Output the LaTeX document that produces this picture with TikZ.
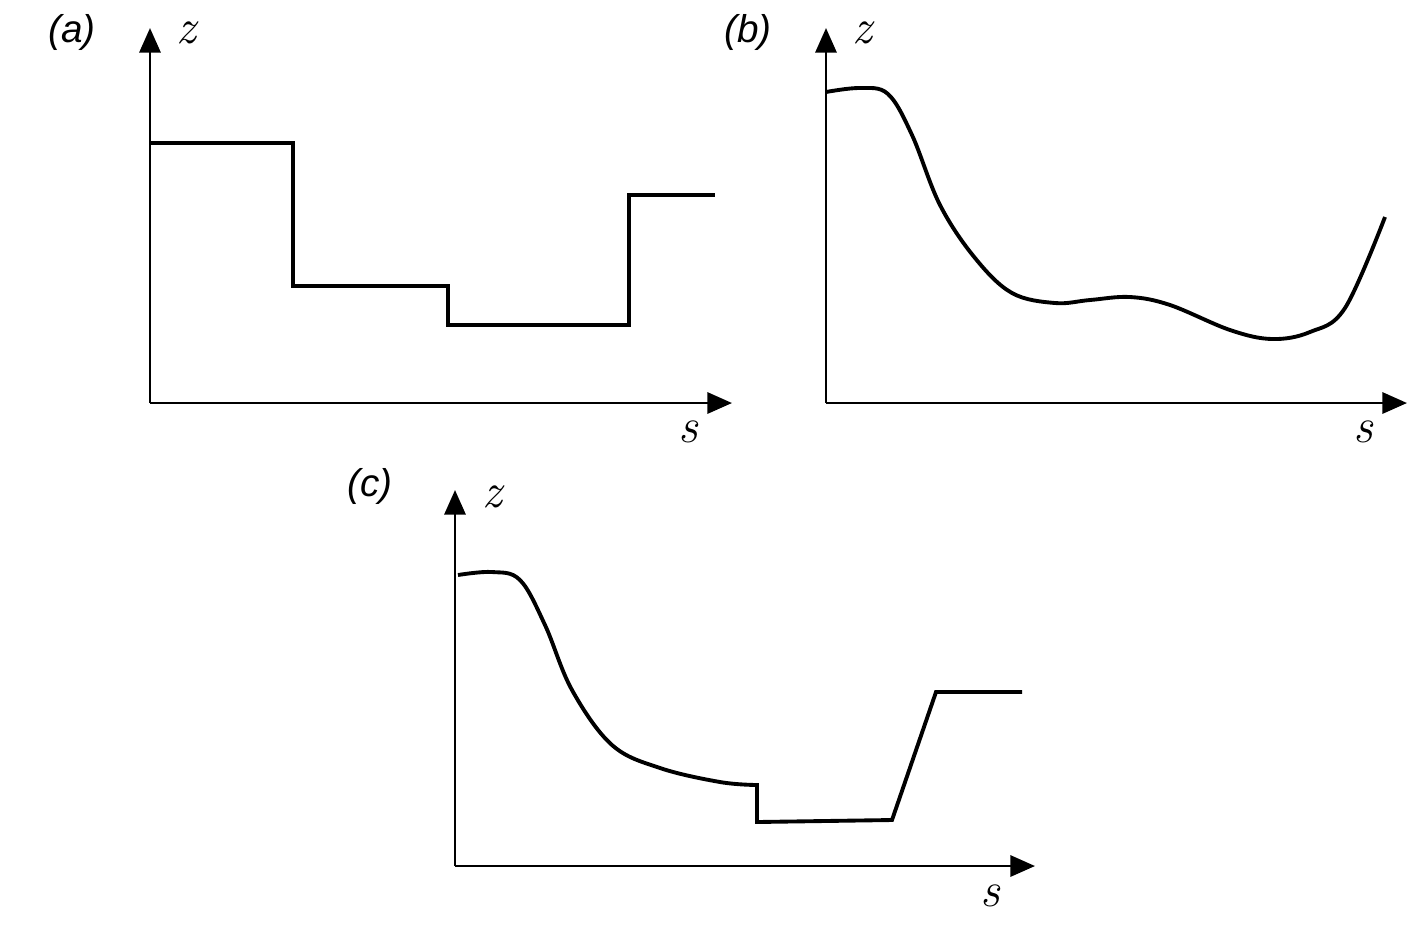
\documentclass[tikz,border=0pt]{standalone}
\usepackage{fontspec}
\setsansfont{Liberation Sans}
\usetikzlibrary{arrows.meta}
\begin{document}
\begin{tikzpicture}[x=0.01cm,y=-0.01cm,
  ax/.style={line width=0.8pt,-{Triangle[length=7pt,width=6pt]}},
  cv/.style={line width=1.1pt,line join=miter},
  pl/.style={font=\sffamily\itshape\fontsize{11}{13}\selectfont},
  vl/.style={font=\itshape\fontsize{14}{16}\selectfont}]
\useasboundingbox (0,0) rectangle (1421,929);
% (a)
\coordinate (oa) at (150,403);
\draw[ax] (oa) -- (150,28);
\draw[ax] (oa) -- (732,403);
\draw[cv] (150,143) -- (293,143) -- (293,286) -- (448,286) -- (448,325) -- (629,325) -- (629,195) -- (715,195);
\node[pl] (la) at (72,32) {(a)};
\node[vl] (za) at (186,33) {z};
\node[vl] (sa) at (688,432) {s};
% (b)
\coordinate (ob) at (826,403);
\draw[ax] (ob) -- (826,28);
\draw[ax] (ob) -- (1407,403);
\draw[cv] plot[smooth,tension=0.6] coordinates {(826,92) (860,88) (888,94) (912,135) (940,205) (975,258) (1012,293) (1055,303) (1090,300) (1130,297) (1170,305) (1230,330) (1272,339) (1310,332) (1345,308) (1385,217)};
\node[pl] (lb) at (748,32) {(b)};
\node[vl] (zb) at (862,33) {z};
\node[vl] (sb) at (1363,432) {s};
% (c)
\coordinate (oc) at (455,866);
\draw[ax] (oc) -- (455,490);
\draw[ax] (oc) -- (1035,866);
\draw[cv] plot[smooth,tension=0.6] coordinates {(458,575) (492,572) (520,580) (545,625) (572,690) (612,745) (660,768) (720,782) (757,785)} -- (757,822) -- (892,820) -- (936,692) -- (1022,692);
\node[pl] (lc) at (370,486) {(c)};
\node[vl] (zc) at (492,497) {z};
\node[vl] (sc) at (990,896) {s};
\end{tikzpicture}
\end{document}
